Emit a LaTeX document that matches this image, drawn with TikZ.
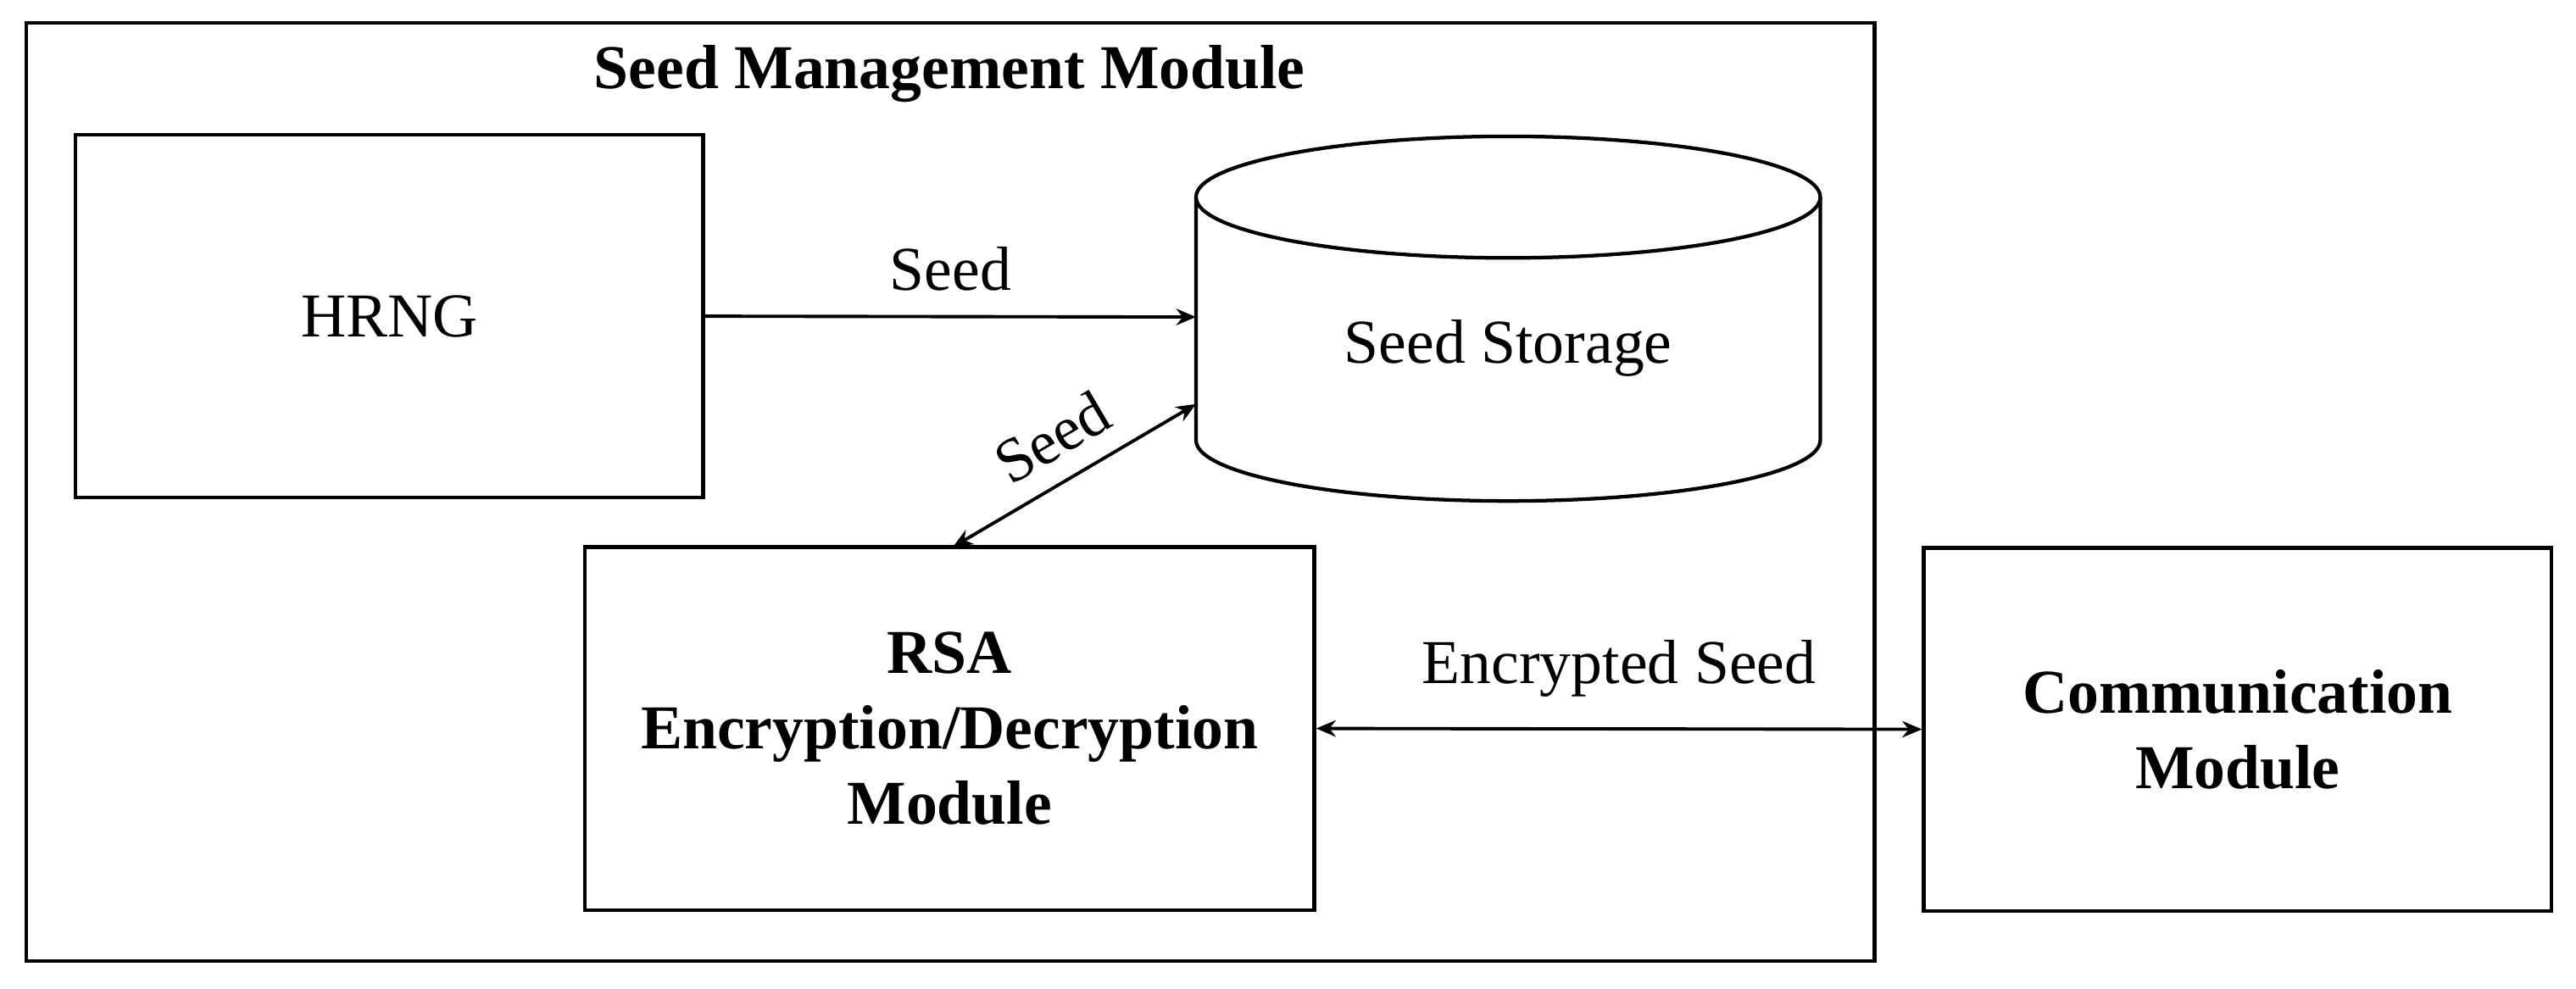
\documentclass[tikz,border=0pt]{standalone}
\usepackage{fontspec}
\setmainfont{Liberation Serif}
\usetikzlibrary{arrows.meta}
\begin{document}
\begin{tikzpicture}[x=0.5pt,y=-0.5pt,line width=1pt,
  box/.style={draw,line width=1.1pt,minimum width=191pt,minimum height=110.5pt,inner sep=0pt},
  lbl/.style={font=\fontsize{19}{22}\selectfont},
  arr/.style={-{Stealth[length=6pt,width=5pt]}},
  darr/.style={{Stealth[length=6pt,width=5pt]}-{Stealth[length=6pt,width=5pt]}}]
\useasboundingbox (0,0) rectangle (1568,602);
\draw[line width=1.1pt] (16,14) rectangle (1141,585);
\node[lbl,font=\fontsize{19}{22}\selectfont\bfseries] (title) at (578,45) {Seed Management Module};
% HRNG
\node[box,lbl] (hrng) at (237,192.5) {HRNG};
% storage cylinder
\draw[line width=1.1pt] (728,120) -- (728,268) arc[start angle=180,end angle=0,x radius=190,y radius=37]
  -- (1108,120);
\draw[line width=1.1pt] (918,120) ellipse[x radius=190,y radius=37];
\node[lbl] (stor) at (918,212) {Seed Storage};
\coordinate (sin) at (728,193);
\coordinate (sdl) at (728,246);
% RSA
\node[box,minimum width=222pt,align=center,font=\fontsize{19}{23}\selectfont\bfseries] (rsa) at (578,443.5)
  {RSA\\Encryption/Decryption\\Module};
\coordinate (rsat) at (580,333);
% Communication
\node[box,align=center,font=\fontsize{19}{23}\selectfont\bfseries] (comm) at (1362,444)
  {Communication\\Module};
% connectors
\draw[arr] (hrng.east) -- (sin) node[lbl,midway,above=4pt] {Seed};
\draw[darr] (rsat) -- (sdl) node[lbl,midway,sloped,above=3pt] {Seed};
\draw[darr] (rsa.east) -- (comm.west) node[lbl,midway,above=6pt] {Encrypted Seed};
\end{tikzpicture}
\end{document}
